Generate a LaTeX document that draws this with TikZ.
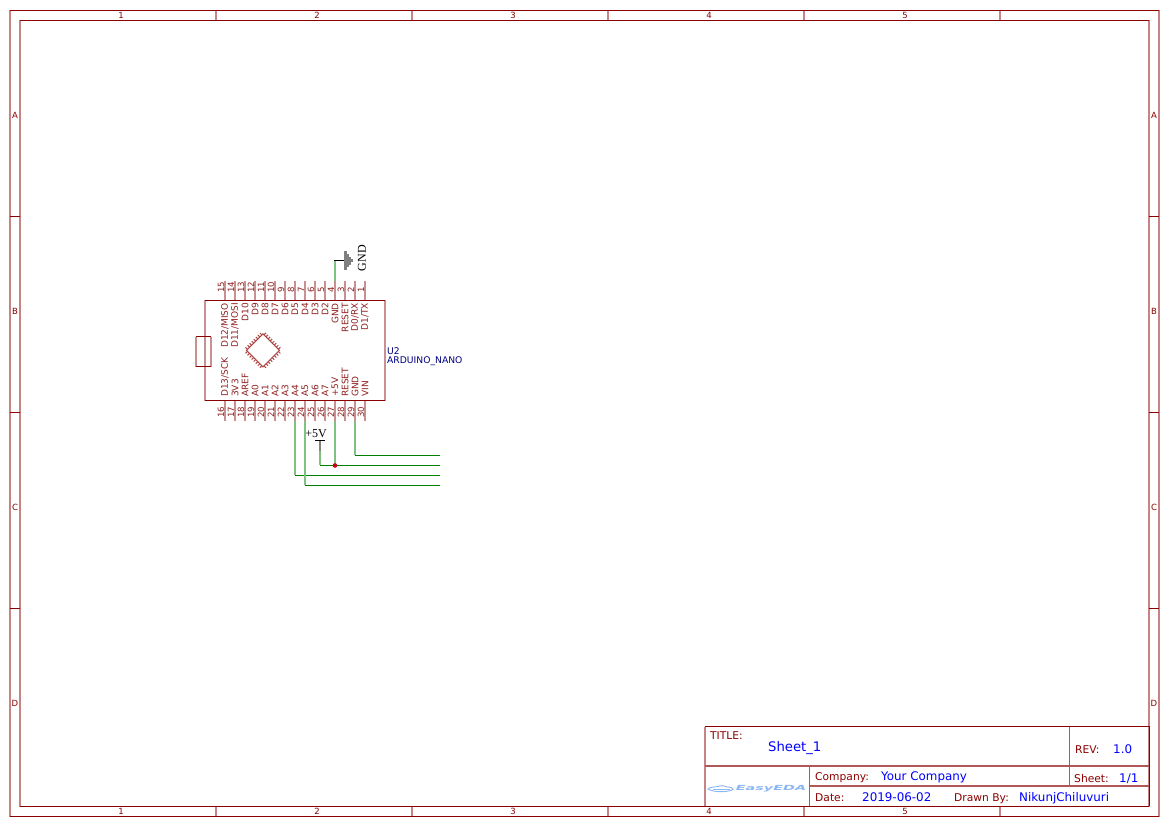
\documentclass[tikz,border=0pt]{standalone}
\usepackage{fontspec}
\setmainfont{DejaVu Sans}
\newfontfamily\serifx{Liberation Serif}
\definecolor{frame}{HTML}{8B0000}
\definecolor{framep}{HTML}{C88484}
\definecolor{framem}{HTML}{B05858}
\definecolor{pinc}{HTML}{8E2020}
\definecolor{pinp}{HTML}{C89090}
\definecolor{chip}{HTML}{B04848}
\definecolor{wire}{HTML}{008000}
\definecolor{wirep}{HTML}{80C080}
\definecolor{blu}{HTML}{0000FF}
\definecolor{navy2}{HTML}{000080}
\definecolor{logo}{HTML}{8AB6F4}
\definecolor{sym}{HTML}{808080}
\tikzset{
  framel/.style={draw=frame,line width=1pt},
  framev/.style={draw=framep,line width=2pt},
  framemid/.style={draw=framem,line width=1.3pt},
  pinl/.style={draw=frame,line width=1pt},
  pinv/.style={draw=pinp,line width=2pt},
  wirel/.style={draw=wire,line width=1pt},
  wirev/.style={draw=wirep,line width=2pt},
  ticktxt/.style={text=frame,font=\fontsize{8.5}{10}\selectfont,inner sep=0pt},
  pinname/.style={text=pinc,font=\fontsize{9}{10}\selectfont,inner sep=0pt,rotate=90},
  pinnum/.style={text=pinc,font=\fontsize{8.6}{10}\selectfont,inner sep=0pt,rotate=90},
  lab/.style={text=frame,font=\fontsize{10.7}{12}\selectfont,inner sep=0pt,anchor=base west},
  val/.style={text=blu,font=\fontsize{11.9}{14}\selectfont,inner sep=0pt,anchor=base west}
}
\begin{document}
\begin{tikzpicture}[x=1pt,y=-1pt]
\useasboundingbox (0,0) rectangle (1169,827);
% frame
\foreach \x in {10,1159}{ \draw[framev] (\x,10) -- (\x,817); }
\foreach \x in {20,1149}{ \draw[framev] (\x,20) -- (\x,807); }
\foreach \y in {10.5,816.5}{ \draw[framel] (10,\y) -- (1159,\y); }
\foreach \y in {20.5,806.5}{ \draw[framel] (20,\y) -- (1149,\y); }
\foreach \x in {216,412,608,804,1000}{
  \draw[framev] (\x,11) -- (\x,20);
  \draw[framev] (\x,807) -- (\x,816);
}
\foreach \y in {216.5,412.5,608.5}{
  \draw[framel] (10,\y) -- (20,\y);
  \draw[framel] (1149,\y) -- (1159,\y);
}
\foreach \x/\t in {121/1,317/2,513/3,709/4,905/5}{
  \node[ticktxt] (top\t) at (\x,15.5) {\t};
  \node[ticktxt] (bot\t) at (\x,811.5) {\t};
}
\foreach \y/\t in {115.5/A,311.5/B,507.5/C,703.5/D}{
  \node[ticktxt] (lft\t) at (15,\y) {\t};
  \node[ticktxt] (rgt\t) at (1154,\y) {\t};
}
% title block
\draw[framev] (705,727) -- (705,806);
\draw[framel] (705,726.5) -- (1149.5,726.5) -- (1149.5,806);
\draw[framemid] (705,766) -- (1149,766);
\draw[framemid] (809,786) -- (1149,786);
\draw[framemid] (809.3,766) -- (809.3,806);
\draw[framemid] (1069.3,727) -- (1069.3,786);
\node[lab] (ttl) at (710,739) {TITLE:};
\node[val,font=\fontsize{13.2}{15}\selectfont] (ttlv) at (768,751.5) {Sheet\_1};
\node[lab] (rev) at (1075,753) {REV:};
\node[val] (revv) at (1113,753) {1.0};
\node[lab] (comp) at (815,780) {Company:};
\node[val] (compv) at (881,780) {Your Company};
\node[lab] (sht) at (1074,782) {Sheet:};
\node[val] (shtv) at (1119,782) {1/1};
\node[lab] (dat) at (815,801.5) {Date:};
\node[val] (datv) at (862,801.5) {2019-06-02};
\node[lab] (drw) at (954,801.5) {Drawn By:};
\node[val] (drwv) at (1019,801.5) {NikunjChiluvuri};
% logo
\draw[logo,line width=.9pt] (708,789) .. controls (710,786.5) and (716,787) .. (718,786.5) .. controls (721,785) and (725,786) .. (727,787) .. controls (731,787) and (733,788) .. (733,789.5) .. controls (728,792.5) and (713,792.5) .. (708,789) -- cycle;
\draw[logo,line width=.7pt] (713,789.3) -- (730,789.3);
\node[text=logo,inner sep=0pt,xscale=2.05,transform shape,font=\bfseries\itshape\fontsize{7}{8}\selectfont] (logotxt) at (771,788.5) {EasyEDA};
% body
\draw[pinv] (205,300) -- (205,401);
\draw[pinv] (385,300) -- (385,401);
\draw[pinl] (205,300.5) -- (385,300.5);
\draw[pinl] (205,400.5) -- (385,400.5);
\draw[pinv] (196,337) -- (196,367);
\draw[pinv] (211,337) -- (211,367);
\draw[pinl] (196,336.5) -- (211,336.5);
\draw[pinl] (196,366.5) -- (211,366.5);
% chip
\draw[chip,line width=1pt] (263,333.8) -- (279.5,350.3) -- (263,366.8) -- (246.5,350.3) -- cycle;
\foreach \i in {0,...,7}{
  \draw[chip,line width=1pt] ({247.5+\i*2.06},{349.3-\i*2.06}) -- ++(-2,-2);
  \draw[chip,line width=1pt] ({264+\i*2.06},{334.8+\i*2.06}) -- ++(2,-2);
  \draw[chip,line width=1pt] ({247.5+\i*2.06},{351.3+\i*2.06}) -- ++(-2,2);
  \draw[chip,line width=1pt] ({264+\i*2.06},{365.8-\i*2.06}) -- ++(2,2);
}
% pins and labels
\foreach \n/\x in {15/225,14/235,13/245,12/255,11/265,10/275,9/285,8/295,7/305,6/315,5/325,4/335,3/345,2/355,1/365}{
  \draw[pinv] (\x,281) -- (\x,300);
  \node[pinnum,anchor=west] (tn\n) at (\x-4,293) {\n};
}
\foreach \x/\t/\k in {225/D12\slash MISO/a,235/D11\slash MOSI/b,245/D10/c,255/D9/d,265/D8/e,275/D7/f,285/D6/g,295/D5/h,305/D4/i,315/D3/j,325/D2/k,335/GND/l,345/RESET/m,355/D0\slash RX/n,365/D1\slash TX/o}{
  \node[pinname,anchor=east] (tp\k) at (\x,303) {\t};
}
\foreach \n/\x in {16/225,17/235,18/245,19/255,20/265,21/275,22/285,23/295,24/305,25/315,26/325,27/335,28/345,29/355,30/365}{
  \draw[pinv] (\x,401) -- (\x,421);
  \node[pinnum,anchor=east] (bn\n) at (\x-4,406.5) {\n};
}
\foreach \x/\t/\k in {225/D13\slash SCK/a,235/3V3/b,245/AREF/c,255/A0/d,265/A1/e,275/A2/f,285/A3/g,295/A4/h,305/A5/i,315/A6/j,325/A7/k,335/+5V/l,345/RESET/m,355/GND/n,365/VIN/o}{
  \node[pinname,anchor=west] (bp\k) at (\x,397) {\t};
}
\node[text=navy2,inner sep=0pt,anchor=base west,font=\fontsize{9.2}{10}\selectfont] (u2) at (387,354.5) {U2};
\node[text=navy2,inner sep=0pt,anchor=base west,font=\fontsize{9.2}{10}\selectfont] (un) at (387,363) {ARDUINO\_NANO};
% GND symbol
\coordinate (gndw) at (345,260.5);
\coordinate (gndp) at (335,281);
\draw[wirev] (gndp) -- (335,260);
\draw[black,line width=1pt] (334,260.5) -- (gndw);
\fill[sym] (344,251) rectangle (346.5,270);
\fill[sym] (346.5,254) rectangle (348.5,267);
\fill[sym] (348.5,256.5) rectangle (350.5,264.5);
\fill[sym] (350.5,259) rectangle (352.5,262);
\node[rotate=90,inner sep=0pt,font=\serifx\fontsize{12}{14}\selectfont] (gndt) at (362,258) {GND};
% +5V symbol
\node[inner sep=0pt,anchor=base,font=\serifx\fontsize{12}{14}\selectfont] (v5) at (316,437) {+5V};
\draw[black,line width=1pt] (315,440.5) -- (325,440.5);
\draw[sym,line width=2pt] (320,441) -- (320,451);
% wires
\coordinate (w1) at (440,455.5);
\coordinate (w2) at (440,465.5);
\coordinate (w3) at (440,475.5);
\coordinate (w4) at (440,485.5);
\coordinate (j) at (335,465.5);
\draw[wirev] (355,421) -- (355,455);
\draw[wirel] (355,455.5) -- (w1);
\draw[wirev] (320,451) -- (320,465);
\draw[wirel] (320,465.5) -- (w2);
\draw[wirev] (335,421) -- (335,465);
\draw[wirev] (295,421) -- (295,475);
\draw[wirel] (295,475.5) -- (w3);
\draw[wirev] (305,421) -- (305,485);
\draw[wirel] (305,485.5) -- (w4);
\fill[red!80!black] (j) circle (2.3pt);
\end{tikzpicture}
\end{document}
